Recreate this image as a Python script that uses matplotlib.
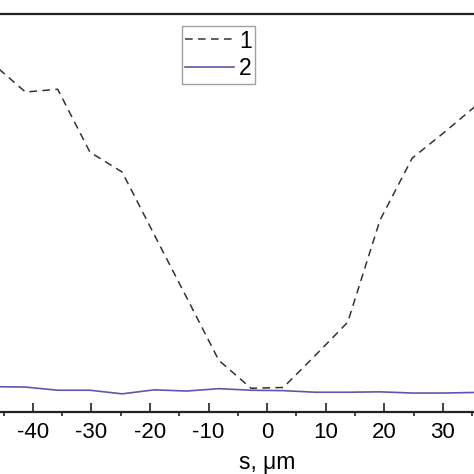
import numpy as np
import matplotlib
matplotlib.use("Agg")
import matplotlib.pyplot as plt

plt.rcParams['font.family'] = ['Liberation Sans', 'DejaVu Sans']
plt.rcParams['axes.unicode_minus'] = False

# positions along the scan, um
s = [-46.75, -41.25, -35.75, -30.25, -24.75, -19.25, -13.75, -8.25,
     -2.75, 2.75, 8.25, 13.75, 19.25, 24.75, 30.25, 35.75]
# curve 1 (dashed)
y1 = [0.874, 0.804, 0.811, 0.653, 0.603, 0.445, 0.288, 0.130,
      0.060, 0.062, 0.143, 0.226, 0.482, 0.638, 0.703, 0.771]
# curve 2 (blue)
y2 = [0.064, 0.063, 0.055, 0.055, 0.046, 0.056, 0.053, 0.059,
      0.055, 0.054, 0.050, 0.050, 0.051, 0.048, 0.048, 0.0495]

fig = plt.figure(figsize=(4.74, 4.74), dpi=100)
ax = fig.add_axes([0.0, 0.1305, 1.0, 0.84])

ax.plot(s, y1, color='#333333', lw=1.1, dashes=(5, 3.5), label='1')
ax.plot(s, y2, color='#5a5aa8', lw=1.2, label='2')

ax.set_xlim(-45.6, 35.3)
ax.set_ylim(0, 1)

ax.spines['left'].set_visible(False)
ax.spines['right'].set_visible(False)
for side in ['top', 'bottom']:
    ax.spines[side].set_linewidth(1.6)
    ax.spines[side].set_color('#222222')

ax.set_xticks(np.arange(-40, 40, 10))
ax.set_xticks(np.arange(-45, 40, 10), minor=True)
ax.set_yticks([])
ax.tick_params(axis='x', which='major', direction='in', length=6.3, width=1.2,
               labelsize=16, pad=7, color='#222222')
ax.tick_params(axis='x', which='minor', direction='out', length=3, width=1.2,
               color='#222222')

ax.set_xlabel('s, \u03bcm', fontsize=16.5, labelpad=6)
ax.xaxis.label.set_x(0.5636)

leg = ax.legend(loc='upper left', bbox_to_anchor=(0.384, 0.945),
                bbox_transform=fig.transFigure, fontsize=16.5,
                frameon=True, fancybox=False, edgecolor='#888888',
                handlelength=2.1, handletextpad=0.25, borderpad=0.15,
                labelspacing=0.2, borderaxespad=0)
leg.get_frame().set_linewidth(1.0)

fig.savefig('out.png', dpi=100)
